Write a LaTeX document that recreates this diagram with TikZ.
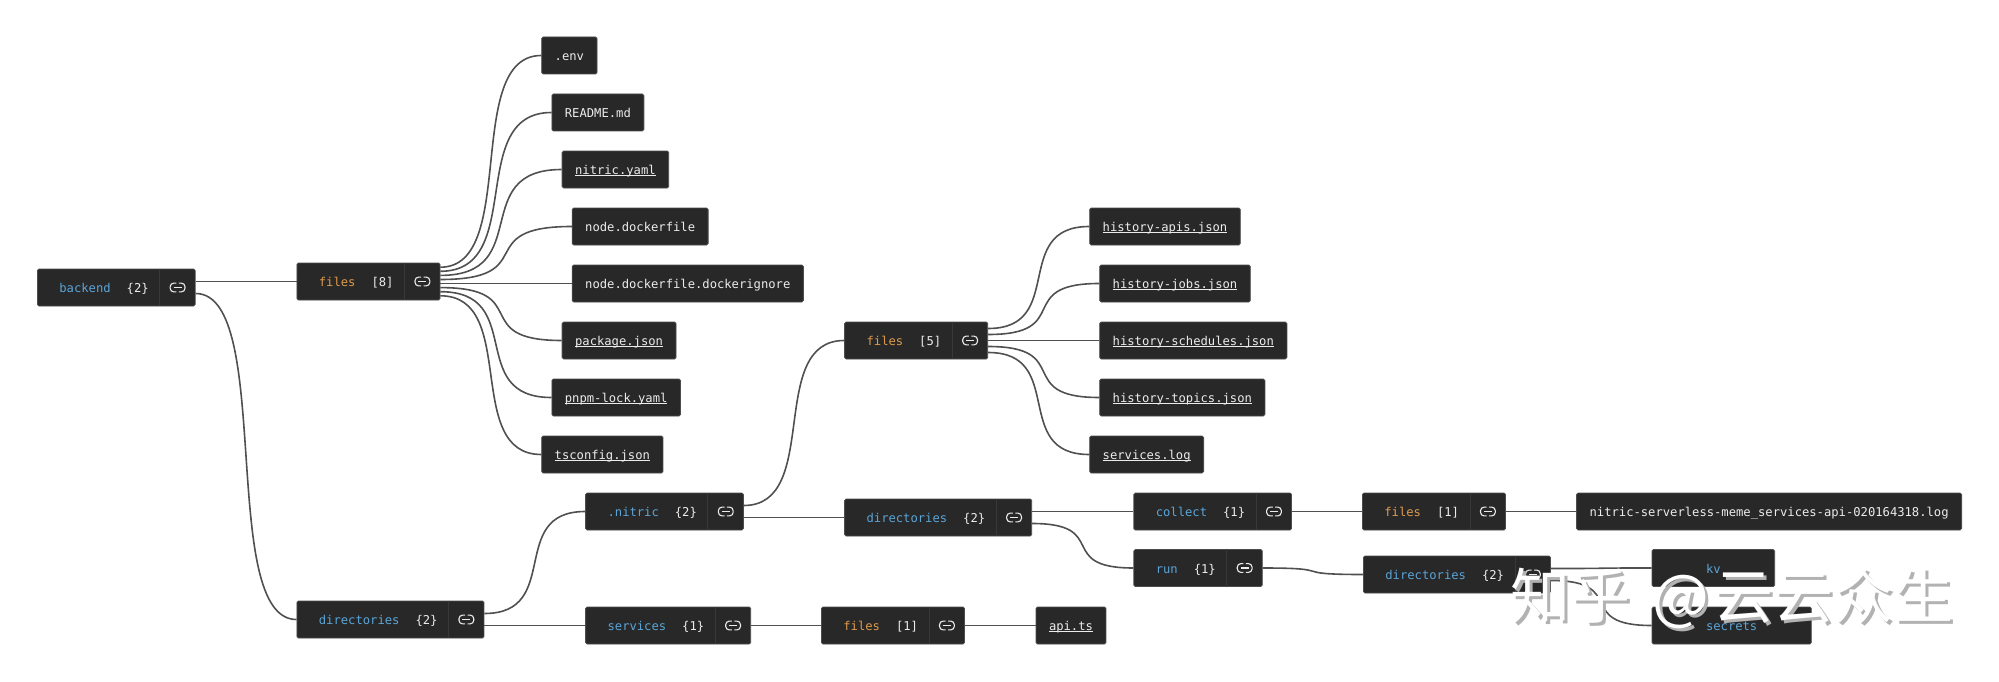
\documentclass[tikz,border=0pt]{standalone}
\usepackage{fontspec}
\setmonofont{DejaVu Sans Mono}
\newfontfamily\cjk{Noto Sans CJK SC}
\usetikzlibrary{calc}

\definecolor{boxfill}{HTML}{282828}
\definecolor{boxedge}{HTML}{4C4C4C}
\definecolor{cellline}{HTML}{383838}
\definecolor{linkline}{HTML}{505050}
\definecolor{labelwhite}{HTML}{ECECEC}
\definecolor{keyblue}{HTML}{5AA5D8}
\definecolor{keyorange}{HTML}{DE9A4C}

\tikzset{
    basebox/.style={draw=boxedge, fill=boxfill, line width=0.8pt, rounded corners=1.5pt, anchor=west,
        minimum height=37pt, inner ysep=0pt, text height=12pt, text depth=2pt, text=labelwhite,
        font=\fontsize{12.17}{14}\selectfont\ttfamily},
    leafbox/.style={basebox, inner xsep=13pt},
    branchbox/.style={basebox, inner xsep=0pt},
    linkline/.style={draw=linkline, line width=1.6pt},
    markfont/.style={font=\cjk\fontsize{60}{60}\selectfont, inner sep=0pt},
    linkglyph/.pic={
        \draw[labelwhite, line width=1.1pt, rounded corners=3.6pt] (-1.2,-4.4) -- (-7.4,-4.4) -- (-7.4,4.4) -- (-1.2,4.4);
        \draw[labelwhite, line width=1.1pt, rounded corners=3.6pt] (1.2,-4.4) -- (7.4,-4.4) -- (7.4,4.4) -- (1.2,4.4);
        \draw[labelwhite, line width=1.1pt] (-4,0) -- (4,0);
    }
}

% name, left, y, key, key colour, count
\newcommand{\branchnode}[6]{
    \node[branchbox] (#1) at (#2, #3) {\hspace{22pt}\textcolor{#5}{#4}\hspace{16pt}#6\kern46.5pt\relax};
    \draw[cellline, line width=0.7pt] ([xshift=-36pt]#1.north east) -- ([xshift=-36pt]#1.south east);
    \pic at ([xshift=-18pt]#1.east) {linkglyph};
}
% underlined file name
\newcommand{\fileline}[1]{\setbox0\hbox{#1}\rlap{\rule[-1.7pt]{\wd0}{0.8pt}}\box0}
% parent, shift on the parent, child
\newcommand{\hookup}[3]{
    \coordinate (from) at ([yshift=#2pt]#1.east);
    \coordinate (bendout) at ($(from)!.78!(#3.west)$);
    \coordinate (bendin) at ($(#3.west)!.78!(from)$);
    \draw[linkline] (from) .. controls (bendout |- from) and (bendin |- #3.west) .. (#3.west);
}

\begin{document}
\begin{tikzpicture}[x=1pt, y=-1pt]
    \useasboundingbox (0, 0) rectangle (1999, 682);

    % draw branches
    \branchnode{backend}{37}{287.5}{backend}{keyblue}{\{2\}}
    \branchnode{rootfiles}{296.5}{281.5}{files}{keyorange}{[8]}
    \branchnode{rootdirs}{296.5}{619.5}{directories}{keyblue}{\{2\}}
    \branchnode{nitricdir}{585.2}{511.5}{.nitric}{keyblue}{\{2\}}
    \branchnode{servicesdir}{585.2}{625.5}{services}{keyblue}{\{1\}}
    \branchnode{apifiles}{821}{625.5}{files}{keyorange}{[1]}
    \branchnode{historyfiles}{844.2}{340.5}{files}{keyorange}{[5]}
    \branchnode{nitricdirs}{844.2}{517.5}{directories}{keyblue}{\{2\}}
    \branchnode{collect}{1133.4}{511.5}{collect}{keyblue}{\{1\}}
    \branchnode{run}{1133.4}{568}{run}{keyblue}{\{1\}}
    \branchnode{logfiles}{1362}{511.5}{files}{keyorange}{[1]}
    \branchnode{rundirs}{1363}{574.5}{directories}{keyblue}{\{2\}}

    % draw leaves
    \node[leafbox] (env) at (541.3, 55.5) {.env};
    \node[leafbox] (readme) at (551.5, 112.5) {README.md};
    \node[leafbox] (nitricyaml) at (561.7, 169.5) {\fileline{nitric.yaml}};
    \node[leafbox] (dockerfile) at (571.8, 226.5) {node.dockerfile};
    \node[leafbox] (dockerignore) at (571.8, 283.5) {node.dockerfile.dockerignore};
    \node[leafbox] (packagejson) at (561.7, 340.5) {\fileline{package.json}};
    \node[leafbox] (pnpmlock) at (551.5, 397.5) {\fileline{pnpm-lock.yaml}};
    \node[leafbox] (tsconfig) at (541.3, 454.5) {\fileline{tsconfig.json}};

    \node[leafbox] (historyapis) at (1089.3, 226.5) {\fileline{history-apis.json}};
    \node[leafbox] (historyjobs) at (1099.3, 283.5) {\fileline{history-jobs.json}};
    \node[leafbox] (historyschedules) at (1099.3, 340.5) {\fileline{history-schedules.json}};
    \node[leafbox] (historytopics) at (1099.3, 397.5) {\fileline{history-topics.json}};
    \node[leafbox] (serviceslog) at (1089.3, 454.5) {\fileline{services.log}};

    \node[leafbox] (apits) at (1035.6, 625.5) {\fileline{api.ts}};
    \node[leafbox] (memelog) at (1576.2, 511.5) {nitric-serverless-meme\_services-api-020164318.log};
    \node[branchbox] (kv) at (1651.6, 568) {\hspace{54pt}\textcolor{keyblue}{kv}\kern54pt\relax};
    \node[branchbox] (secrets) at (1651.6, 625.5) {\hspace{54pt}\textcolor{keyblue}{secrets}\kern54pt\relax};

    % draw links
    \hookup{backend}{6}{rootfiles}
    \hookup{backend}{-6}{rootdirs}

    \hookup{rootfiles}{14.3}{env}
    \hookup{rootfiles}{10.2}{readme}
    \hookup{rootfiles}{6.1}{nitricyaml}
    \hookup{rootfiles}{2}{dockerfile}
    \hookup{rootfiles}{-2}{dockerignore}
    \hookup{rootfiles}{-6.1}{packagejson}
    \hookup{rootfiles}{-10.2}{pnpmlock}
    \hookup{rootfiles}{-14.3}{tsconfig}

    \hookup{rootdirs}{6}{nitricdir}
    \hookup{rootdirs}{-6}{servicesdir}
    \hookup{servicesdir}{0}{apifiles}
    \hookup{apifiles}{0}{apits}

    \hookup{nitricdir}{6}{historyfiles}
    \hookup{nitricdir}{-6}{nitricdirs}

    \hookup{historyfiles}{12}{historyapis}
    \hookup{historyfiles}{6}{historyjobs}
    \hookup{historyfiles}{0}{historyschedules}
    \hookup{historyfiles}{-6}{historytopics}
    \hookup{historyfiles}{-12}{serviceslog}

    \hookup{nitricdirs}{6}{collect}
    \hookup{nitricdirs}{-6}{run}
    \hookup{collect}{0}{logfiles}
    \hookup{logfiles}{0}{memelog}
    \hookup{run}{0}{rundirs}
    \hookup{rundirs}{6}{kv}
    \hookup{rundirs}{-6}{secrets}

    % draw watermark
    \node[markfont, text=black!30] (markshade) at (1735, 601) {知乎\hspace{22pt}@\hspace{4pt}云云众生};
    \node[markfont, text=white] (marktext) at (1732, 598) {知乎\hspace{22pt}@\hspace{4pt}云云众生};
\end{tikzpicture}
\end{document}
